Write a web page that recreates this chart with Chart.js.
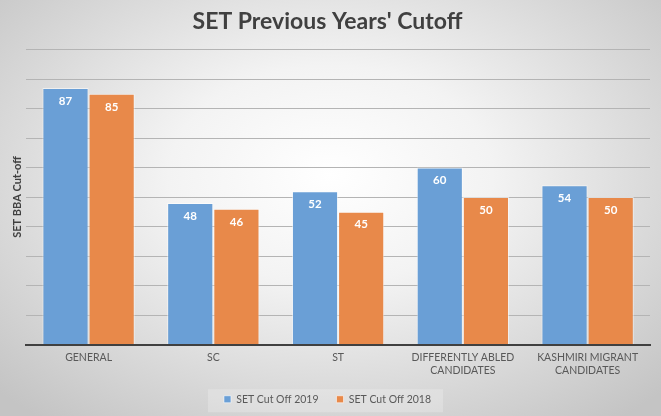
<!DOCTYPE html>
<html>
<head>
<meta charset="utf-8">
<script src="https://cdn.jsdelivr.net/npm/chart.js@4"></script>
<style>
  html, body { margin: 0; padding: 0; }
  body {
    width: 661px; height: 416px; overflow: hidden;
    background: radial-gradient(ellipse 70% 75% at 50% 42%, #ffffff 0%, #f3f3f3 35%, #d6d6d6 75%, #c4c4c4 100%);
  }
  canvas { display: block; }
</style>
</head>
<body>
<canvas id="cutoffChart" width="661" height="416"></canvas>
<script>
const categories = [
  'GENERAL',
  'SC',
  'ST',
  ['DIFFERENTLY ABLED', 'CANDIDATES'],
  ['KASHMIRI MIGRANT', 'CANDIDATES']
];
const cutoff2019 = [87, 48, 52, 60, 54];
const cutoff2018 = [85, 46, 45, 50, 50];

const fontFamily = 'Lato, "Open Sans", sans-serif';

// white value labels just inside the top of each bar
const barLabels = {
  id: 'barLabels',
  afterDatasetsDraw(chart) {
    const ctx = chart.ctx;
    ctx.save();
    ctx.font = 'bold 11.5px ' + fontFamily;
    ctx.fillStyle = '#ffffff';
    ctx.textAlign = 'center';
    ctx.textBaseline = 'middle';
    chart.data.datasets.forEach((ds, i) => {
      chart.getDatasetMeta(i).data.forEach((bar, j) => {
        ctx.fillText(ds.data[j], bar.x, bar.y + 13);
      });
    });
    ctx.restore();
  }
};

// light box behind the legend items
const legendBox = {
  id: 'legendBox',
  beforeDraw(chart) {
    const boxes = chart.legend && chart.legend.legendHitBoxes;
    if (!boxes || !boxes.length) return;
    const left = Math.min(...boxes.map(b => b.left)) - 16;
    const right = Math.max(...boxes.map(b => b.left + b.width)) + 12;
    const mid = boxes[0].top + boxes[0].height / 2;
    const ctx = chart.ctx;
    ctx.save();
    ctx.fillStyle = 'rgba(255,255,255,0.22)';
    ctx.fillRect(left, mid - 10, right - left, 23);
    ctx.restore();
  }
};

new Chart(document.getElementById('cutoffChart'), {
  type: 'bar',
  data: {
    labels: categories,
    datasets: [
      {
        label: 'SET Cut Off 2019',
        data: cutoff2019,
        backgroundColor: '#6a9fd6',
        borderColor: 'rgba(255,255,255,0.55)',
        borderWidth: 1,
        categoryPercentage: 0.74,
        barPercentage: 1.0
      },
      {
        label: 'SET Cut Off 2018',
        data: cutoff2018,
        backgroundColor: '#e8894a',
        borderColor: 'rgba(255,255,255,0.55)',
        borderWidth: 1,
        categoryPercentage: 0.74,
        barPercentage: 1.0
      }
    ]
  },
  options: {
    responsive: false,
    animation: false,
    layout: { padding: { left: 5, right: 11, top: 8, bottom: 1.5 } },
    plugins: {
      title: {
        display: true,
        text: "SET Previous Years' Cutoff",
        color: '#404040',
        font: { family: fontFamily, size: 23, weight: 'bold' },
        padding: { top: 0, bottom: 14 }
      },
      legend: {
        position: 'bottom',
        labels: {
          color: '#595959',
          font: { family: fontFamily, size: 10.5 },
          boxWidth: 7,
          boxHeight: 7,
          padding: 18
        }
      },
      tooltip: { enabled: false }
    },
    scales: {
      x: {
        grid: { display: false, drawTicks: false },
        border: { display: true, color: '#404040', width: 2 },
        ticks: {
          color: '#595959',
          font: { family: fontFamily, size: 10.5 },
          padding: 7,
          maxRotation: 0
        },
        // labels keep their place; the axis box is trimmed so the legend sits close
        afterFit(scale) { scale.height = 31.5; }
      },
      y: {
        min: 0,
        max: 100,
        ticks: { display: false, stepSize: 10 },
        grid: { color: '#b4b4b4', drawTicks: false },
        border: { display: false },
        title: {
          display: true,
          text: 'SET BBA Cut-off',
          color: '#404040',
          font: { family: fontFamily, size: 11, weight: 'bold' },
          padding: { top: 6, bottom: 2 }
        }
      }
    }
  },
  plugins: [legendBox, barLabels]
});
</script>
</body>
</html>
